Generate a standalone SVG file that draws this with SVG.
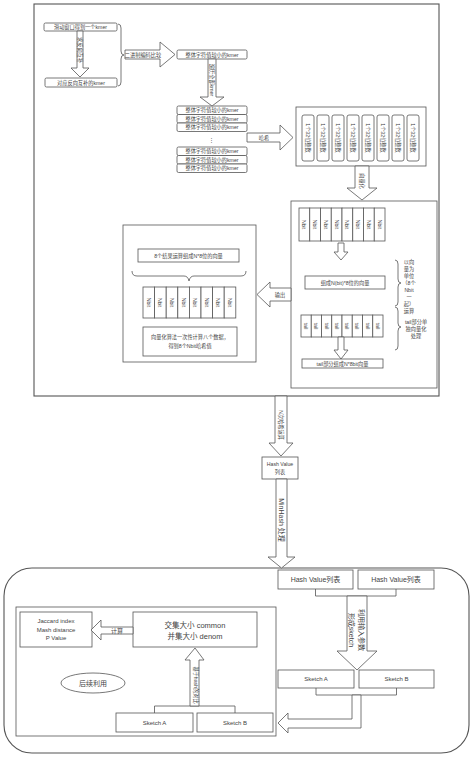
<svg xmlns="http://www.w3.org/2000/svg" width="474" height="758" viewBox="0 0 474 758">
<style>
.b{fill:#fff;stroke:#555;stroke-width:0.8}
.a{fill:#fff;stroke:#555;stroke-width:0.8;stroke-linejoin:miter}
.l{fill:none;stroke:#555;stroke-width:0.8}
.f{fill:none;stroke:#555;stroke-width:1.1}
text{font-family:"Liberation Sans","Noto Sans CJK SC",sans-serif;fill:#444;text-anchor:middle;dominant-baseline:central}
.s{font-size:5.2px}
.m{font-size:6px}
.g{font-size:7px}
.h{font-size:7.5px}
</style>
<rect width="474" height="758" fill="#fff"/>
<g id="top-frame"><rect class="f" x="34" y="4" width="405" height="392"/></g>
<g id="n-window"><rect class="b" x="44" y="23" width="73" height="8" rx="1.5"/><text class="s" x="80.5" y="27">滑动窗口得到一个kmer</text></g>
<g id="n-revcomp"><rect class="b" x="45" y="78" width="72" height="9" rx="1.5"/><text class="s" x="81" y="82.5">对应反向互补的kmer</text></g>
<g id="n-min"><rect class="b" x="177" y="50" width="70" height="9" rx="1.5"/><text class="s" x="212" y="54.5">整体字符值较小的kmer</text></g>
<g id="n-list">
<rect class="b" x="177" y="106" width="70" height="8.5" rx="1.5"/><text class="s" x="212" y="110.3">整体字符值较小的kmer</text>
<rect class="b" x="177" y="114.5" width="70" height="8.5" rx="1.5"/><text class="s" x="212" y="118.8">整体字符值较小的kmer</text>
<rect class="b" x="177" y="123" width="70" height="8.5" rx="1.5"/><text class="s" x="212" y="127.3">整体字符值较小的kmer</text>
<text class="s" x="211" y="140">⋮</text>
<rect class="b" x="177" y="147" width="70" height="8.5" rx="1.5"/><text class="s" x="212" y="151.3">整体字符值较小的kmer</text>
<rect class="b" x="177" y="155.5" width="70" height="8.5" rx="1.5"/><text class="s" x="212" y="159.8">整体字符值较小的kmer</text>
<rect class="b" x="177" y="164" width="70" height="8.5" rx="1.5"/><text class="s" x="212" y="168.3">整体字符值较小的kmer</text>
</g>
<g id="n-ints">
<rect class="b" x="296" y="107" width="130" height="59"/>
<rect class="b" x="302" y="115" width="12" height="46" rx="2"/><text class="s" transform="rotate(90 308 138)" x="308" y="138">1个32位整数</text>
<rect class="b" x="317" y="115" width="12" height="46" rx="2"/><text class="s" transform="rotate(90 323 138)" x="323" y="138">1个32位整数</text>
<rect class="b" x="332" y="115" width="12" height="46" rx="2"/><text class="s" transform="rotate(90 338 138)" x="338" y="138">1个32位整数</text>
<rect class="b" x="347" y="115" width="12" height="46" rx="2"/><text class="s" transform="rotate(90 353 138)" x="353" y="138">1个32位整数</text>
<rect class="b" x="362" y="115" width="12" height="46" rx="2"/><text class="s" transform="rotate(90 368 138)" x="368" y="138">1个32位整数</text>
<rect class="b" x="377" y="115" width="12" height="46" rx="2"/><text class="s" transform="rotate(90 383 138)" x="383" y="138">1个32位整数</text>
<rect class="b" x="392" y="115" width="12" height="46" rx="2"/><text class="s" transform="rotate(90 398 138)" x="398" y="138">1个32位整数</text>
<rect class="b" x="407" y="115" width="12" height="46" rx="2"/><text class="s" transform="rotate(90 413 138)" x="413" y="138">1个32位整数</text>
</g>
<g id="n-vector">
<rect class="b" x="291" y="201" width="146" height="187"/>
<rect class="b" x="299" y="208" width="10.75" height="33"/><text class="s" transform="rotate(90 304.4 224.5)" x="304.4" y="224.5">Nbit</text>
<rect class="b" x="309.75" y="208" width="10.75" height="33"/><text class="s" transform="rotate(90 315.1 224.5)" x="315.1" y="224.5">Nbit</text>
<rect class="b" x="320.5" y="208" width="10.75" height="33"/><text class="s" transform="rotate(90 325.9 224.5)" x="325.9" y="224.5">Nbit</text>
<rect class="b" x="331.25" y="208" width="10.75" height="33"/><text class="s" transform="rotate(90 336.6 224.5)" x="336.6" y="224.5">Nbit</text>
<rect class="b" x="342" y="208" width="10.75" height="33"/><text class="s" transform="rotate(90 347.4 224.5)" x="347.4" y="224.5">Nbit</text>
<rect class="b" x="352.75" y="208" width="10.75" height="33"/><text class="s" transform="rotate(90 358.1 224.5)" x="358.1" y="224.5">Nbit</text>
<rect class="b" x="363.5" y="208" width="10.75" height="33"/><text class="s" transform="rotate(90 368.9 224.5)" x="368.9" y="224.5">Nbit</text>
<rect class="b" x="374.25" y="208" width="10.75" height="33"/><text class="s" transform="rotate(90 379.6 224.5)" x="379.6" y="224.5">Nbit</text>
<polygon class="a" points="338,243 344,243 344,252 348,252 341,260 334,252 338,252"/>
<rect class="b" x="305" y="276" width="80" height="13"/><text class="s" x="345" y="282.5">组成N(bit)*8位的向量</text>
<rect class="b" x="301" y="315" width="10.25" height="22"/><text class="s" transform="rotate(90 306.1 326)" x="306.1" y="326">tail</text>
<rect class="b" x="311.25" y="315" width="10.25" height="22"/><text class="s" transform="rotate(90 316.4 326)" x="316.4" y="326">tail</text>
<rect class="b" x="321.5" y="315" width="10.25" height="22"/><text class="s" transform="rotate(90 326.6 326)" x="326.6" y="326">tail</text>
<rect class="b" x="331.75" y="315" width="10.25" height="22"/><text class="s" transform="rotate(90 336.9 326)" x="336.9" y="326">tail</text>
<rect class="b" x="342" y="315" width="10.25" height="22"/><text class="s" transform="rotate(90 347.1 326)" x="347.1" y="326">tail</text>
<rect class="b" x="352.25" y="315" width="10.25" height="22"/><text class="s" transform="rotate(90 357.4 326)" x="357.4" y="326">tail</text>
<rect class="b" x="362.5" y="315" width="10.25" height="22"/><text class="s" transform="rotate(90 367.6 326)" x="367.6" y="326">tail</text>
<rect class="b" x="372.75" y="315" width="10.25" height="22"/><text class="s" transform="rotate(90 377.9 326)" x="377.9" y="326">tail</text>
<polygon class="a" points="338,337 344,337 344,350 348,350 341,359 334,350 338,350"/>
<rect class="b" x="302" y="359" width="81" height="9"/><text class="s" x="342.5" y="363.5">tail部分组成N*8bit向量</text>
<path class="l" d="M395,260 q3,0 3,4 V279 q0,4 3,4 q-3,0 -3,4 V302 q0,4 -3,4"/>
<path class="l" d="M395,307 q3,0 3,4 V323 q0,4 3,4 q-3,0 -3,4 V346 q0,4 -3,4"/>
<text class="s"><tspan x="409" y="262">以向</tspan><tspan x="409" y="269">量为</tspan><tspan x="409" y="276">单位</tspan><tspan x="409" y="283">（8个</tspan><tspan x="409" y="290">Nbit</tspan><tspan x="409" y="297">一</tspan><tspan x="409" y="304">起）</tspan><tspan x="409" y="311">运算</tspan></text>
<text class="s"><tspan x="416" y="322">tail部分单</tspan><tspan x="416" y="329">独向量化</tspan><tspan x="416" y="336">处理</tspan></text>
</g>
<g id="n-result">
<rect class="b" x="123" y="225" width="133" height="137"/>
<rect class="b" x="138" y="249" width="101" height="13"/><text class="s" x="188.5" y="255.5">8个结果运算组成N*8位的向量</text>
<path class="l" d="M132,271 q0,5 5,5 H184 q4,0 5,5 q1,-5 5,-5 H241 q5,0 5,-5"/>
<rect class="b" x="143" y="287" width="11.6" height="31"/><text class="s" transform="rotate(90 148.8 302.5)" x="148.8" y="302.5">Nbit</text>
<rect class="b" x="154.6" y="287" width="11.6" height="31"/><text class="s" transform="rotate(90 160.4 302.5)" x="160.4" y="302.5">Nbit</text>
<rect class="b" x="166.2" y="287" width="11.6" height="31"/><text class="s" transform="rotate(90 172 302.5)" x="172" y="302.5">Nbit</text>
<rect class="b" x="177.8" y="287" width="11.6" height="31"/><text class="s" transform="rotate(90 183.6 302.5)" x="183.6" y="302.5">Nbit</text>
<rect class="b" x="189.4" y="287" width="11.6" height="31"/><text class="s" transform="rotate(90 195.2 302.5)" x="195.2" y="302.5">Nbit</text>
<rect class="b" x="201" y="287" width="11.6" height="31"/><text class="s" transform="rotate(90 206.8 302.5)" x="206.8" y="302.5">Nbit</text>
<rect class="b" x="212.6" y="287" width="11.6" height="31"/><text class="s" transform="rotate(90 218.4 302.5)" x="218.4" y="302.5">Nbit</text>
<rect class="b" x="224.2" y="287" width="11.6" height="31"/><text class="s" transform="rotate(90 230 302.5)" x="230" y="302.5">Nbit</text>
<rect class="b" x="143" y="327" width="94" height="29"/>
<text class="s"><tspan x="190" y="337">向量化算法一次性计算八个数据，</tspan><tspan x="190" y="346">得到8个Nbit哈希值</tspan></text>
</g>
<g id="n-hashlist"><rect class="b" x="262" y="457" width="36" height="22"/><text class="s"><tspan x="280" y="464">Hash Value</tspan><tspan x="280" y="472">列表</tspan></text></g>
<g id="bottom-frame"><rect class="f" x="4" y="568" width="465" height="185" rx="28"/></g>
<g id="n-hv1"><rect class="b" x="278" y="570" width="75" height="19"/><text class="g" x="315.5" y="579.5">Hash Value列表</text></g>
<g id="n-hv2"><rect class="b" x="358" y="570" width="76" height="19"/><text class="g" x="396" y="579.5">Hash Value列表</text></g>
<g id="n-skA"><rect class="b" x="278" y="670" width="76" height="18"/><text class="m" x="316" y="679">Sketch A</text></g>
<g id="n-skB"><rect class="b" x="359" y="670" width="75" height="18"/><text class="m" x="396.5" y="679">Sketch B</text></g>
<g id="n-compare">
<rect class="b" x="16" y="607" width="260" height="129"/>
</g>
<g id="n-jaccard"><rect class="b" x="20" y="612" width="72" height="35"/><text class="m"><tspan x="56" y="621">Jaccard index</tspan><tspan x="56" y="629.5">Mash distance</tspan><tspan x="56" y="638">P Value</tspan></text></g>
<g id="n-common"><rect class="b" x="133" y="612" width="124" height="35"/><text class="h"><tspan x="195" y="625">交集大小 common</tspan><tspan x="195" y="636">并集大小 denom</tspan></text></g>
<g id="n-skA2"><rect class="b" x="116" y="713" width="77" height="19"/><text class="m" x="154.5" y="722.5">Sketch A</text></g>
<g id="n-skB2"><rect class="b" x="197" y="713" width="76" height="19"/><text class="m" x="235" y="722.5">Sketch B</text></g>
<g id="n-reuse"><ellipse class="b" cx="93" cy="683" rx="32" ry="10"/><text class="g" x="93" y="683">后续利用</text></g>
<g id="connectors">
<polygon class="a" points="77,31 83,31 83,68 89,68 80,77 71,68 77,68"/>
<text class="s" transform="rotate(90 80 50)" x="80" y="50">求反向互补</text>
<path class="l" d="M118,24 q3,0 3,4 V51 q0,4 3,4 q-3,0 -3,4 V82 q0,4 -3,4"/>
<polygon class="a" points="125,50 160,50 160,42 175,54.5 160,67 160,59 125,59"/>
<text class="s" x="143" y="54.8">二进制编码比较</text>
<polygon class="a" points="208,59 216,59 216,97 224,97 212,106 200,97 208,97"/>
<text class="s" transform="rotate(90 212 80)" x="212" y="80">遍历全部kmer</text>
<polygon class="a" points="247,133 280,133 280,125 293,137.5 280,150 280,142 247,142"/>
<text class="s" x="264" y="137.7">哈希</text>
<polygon class="a" points="355,166 369,166 369,188 377,188 362,200 347,188 355,188"/>
<text class="s" transform="rotate(90 362 181)" x="362" y="181">向量化</text>
<polygon class="a" points="291,288 270,288 270,282 257,294.5 270,307 270,301 291,301"/>
<text class="s" x="280" y="294.5">输出</text>
<polygon class="a" points="275,396 287,396 287,443 293,443 281,456 269,443 275,443"/>
<text class="s" transform="rotate(90 281 425)" x="281" y="425">N次哈希运算</text>
<polygon class="a" points="276,479 287,479 287,557 295,557 281.5,568 268,557 276,557"/>
<text class="g" transform="rotate(90 281.5 520)" x="281.5" y="520">MinHash 处理</text>
<path class="l" d="M315.5,589 V596 H396 V589"/>
<polygon class="a" points="347,596 367,596 367,651 377,651 357,670 337,651 347,651"/>
<text class="g" transform="rotate(90 357 630)"><tspan x="357" y="625">利用输入参数</tspan><tspan x="357" y="635">形成sketch</tspan></text>
<path class="l" d="M316,688 V695 H396.5 V688"/>
<polygon class="a" points="352,695 361,695 361,728 288,728 288,733 278,723 288,713 288,719 352,719"/>
<path class="l" d="M154.5,713 V706 H235 V713"/>
<polygon class="a" points="190,706 199,706 199,660 204,660 195,648 185,660 190,660"/>
<text class="s" transform="rotate(90 196 685)" x="196" y="685">基于hash的对比</text>
<polygon class="a" points="133,627 101,627 101,620 91,630 101,640 101,634 133,634"/>
<text class="m" x="117" y="630.5">计算</text>
</g>
</svg>
